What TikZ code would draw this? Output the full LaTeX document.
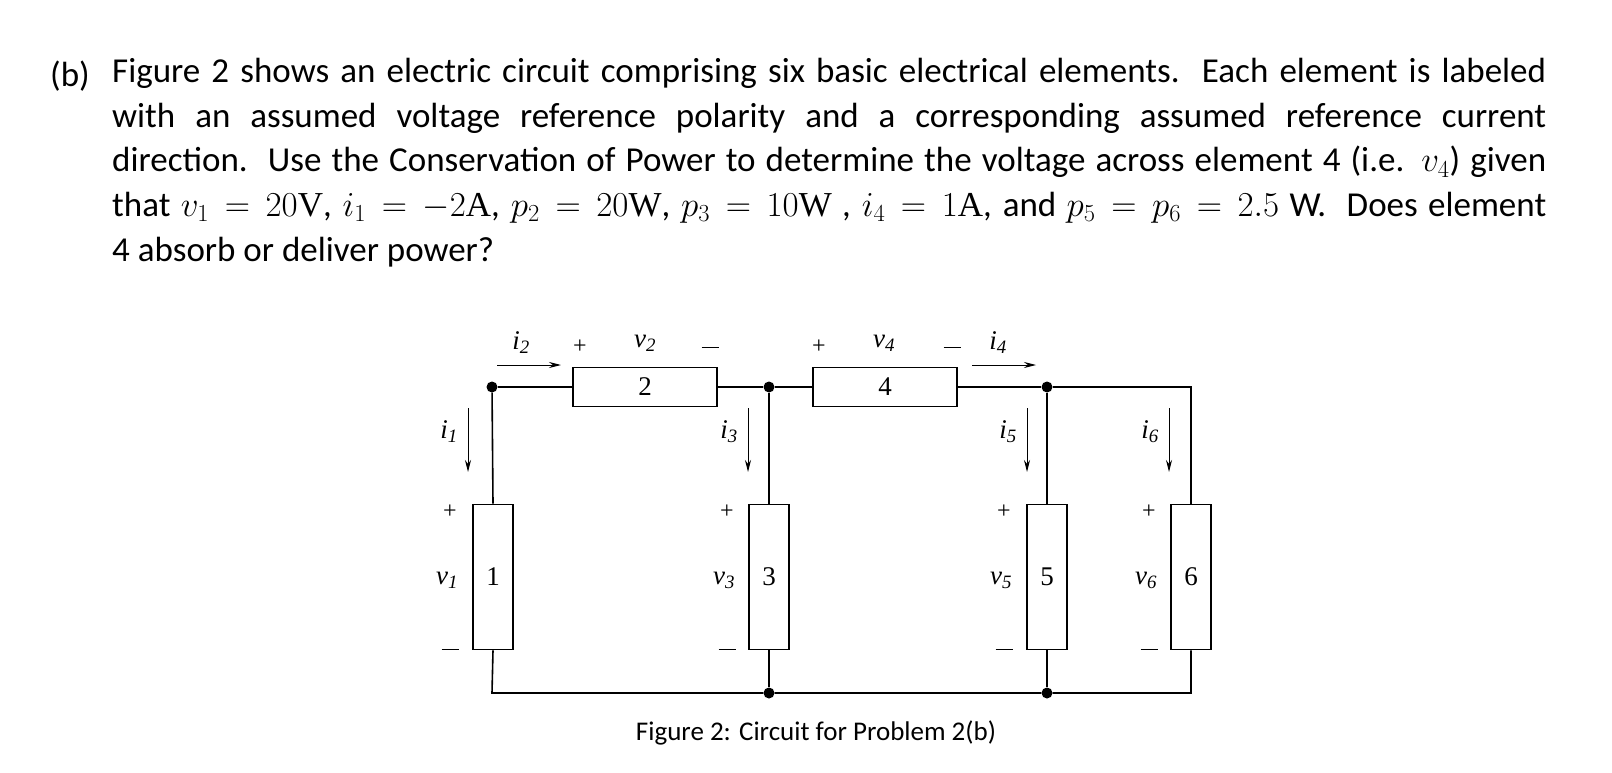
\RequirePackage{fix-cm}
\documentclass[tikz,border=0pt]{standalone}
\usepackage{fontspec}
\setmainfont{Carlito}
\newfontfamily\ser{Liberation Serif}
\newcommand\un[1]{\hbox{\ser #1}}
\usetikzlibrary{arrows.meta}
\begin{document}
\begin{tikzpicture}[x=1pt,y=-1pt,
  wire/.style={line width=1.6pt},
  elem/.style={draw,line width=1.6pt,fill=white,inner sep=0pt,font=\ser\fontsize{27}{30}\selectfont},
  helem/.style={elem,minimum width=144pt,minimum height=39pt},
  velem/.style={elem,minimum width=40pt,minimum height=145pt},
  dot/.style={circle,fill=black,inner sep=0pt,minimum size=11pt},
  cur/.style={line width=1pt,-{Stealth[length=12pt,width=6pt]}},
  lab/.style={font=\ser\fontsize{27}{30}\selectfont,inner sep=0pt},
  sgn/.style={font=\ser\fontsize{24}{26}\selectfont,inner sep=0pt}]
\useasboundingbox (0,0) rectangle (1612,773);
% text
\node[anchor=base west,inner sep=0pt,font=\fontsize{35}{44.7}\selectfont] (b) at (50,87) {(b)};
\node[anchor=north west,inner sep=0pt,text width=1434pt,font=\fontsize{35}{44.7}\selectfont,align=justify] (para) at (112,58) {Figure 2 shows an electric circuit comprising six basic electrical elements.\ \ Each element is labeled\linebreak
with an assumed voltage reference polarity and a corresponding assumed reference current\linebreak
direction.\ \ Use the Conservation of Power to determine the voltage across element 4 (i.e. $v_4$) given\linebreak
that $v_1 = 20\un{V}$, $i_1 = -2\un{A}$, $p_2 = 20\un{W}$, $p_3 = 10\un{W}$ , $i_4 = 1\un{A}$, and $p_5 = p_6 = 2.5$ W.\ \ Does element\linebreak
4 absorb or deliver power?};
% circuit nodes
\node[dot] (n1) at (492,387) {};
\node[dot] (n2) at (769,387) {};
\node[dot] (n3) at (1047,387) {};
\node[dot] (m2) at (769,693) {};
\node[dot] (m3) at (1047,693) {};
\coordinate (tr) at (1191,387);
\coordinate (bl) at (492,693);
\coordinate (br) at (1191,693);
\node[helem] (e2) at (645,387) {2};
\node[helem] (e4) at (885,387) {4};
\node[velem] (e1) at (493,577) {1};
\node[velem] (e3) at (769,577) {3};
\node[velem] (e5) at (1047,577) {5};
\node[velem] (e6) at (1191,577) {6};
\draw[wire] (n1) -- (e2.west) (e2.east) -- (n2) -- (e4.west) (e4.east) -- (n3) -- (tr) -- (e6.north);
\draw[wire] (n1) -- (e1.north) (e1.south) -- (bl) -- (m2) -- (m3) -- (br) -- (e6.south);
\draw[wire] (n2) -- (e3.north) (e3.south) -- (m2);
\draw[wire] (n3) -- (e5.north) (e5.south) -- (m3);
% currents
\coordinate (a2s) at (497,365); \coordinate (a2e) at (561,365);
\coordinate (a4s) at (972,365); \coordinate (a4e) at (1036,365);
\draw[cur] (a2s) -- (a2e);
\draw[cur] (a4s) -- (a4e);
\node[lab] (li2) at (521,343) {\itshape i\textsubscript{2}};
\node[lab] (li4) at (998,343) {\itshape i\textsubscript{4}};
\foreach \x/\n in {468/1,748/3,1027/5,1169/6}{
  \coordinate (s\n) at (\x,408); \coordinate (t\n) at (\x,472);
  \draw[cur] (s\n) -- (t\n);
  \node[lab] (li\n) at (\x-19,432) {\itshape i\textsubscript{\n}};
}
% voltages
\node[sgn] (p2) at (580,347) {+};
\node[lab] (lv2) at (645,343) {\itshape v\textsubscript{2}};
\node[sgn] (q2) at (710,347) {\rule{17pt}{1pt}};
\node[sgn] (p4) at (819,347) {+};
\node[lab] (lv4) at (884,343) {\itshape v\textsubscript{4}};
\node[sgn] (q4) at (952,347) {\rule{17pt}{1pt}};
\foreach \x/\n in {450/1,727/3,1004/5,1149/6}{
  \node[sgn] (pp\n) at (\x,512) {+};
  \node[lab] (lv\n) at (\x-3,580) {\itshape v\textsubscript{\n}};
  \node[sgn] (qq\n) at (\x,649) {\rule{17pt}{1pt}};
}
\node[inner sep=0pt,font=\fontsize{27}{30}\selectfont,anchor=base] (cap) at (816,740) {Figure 2: Circuit for Problem 2(b)};
\end{tikzpicture}
\end{document}
